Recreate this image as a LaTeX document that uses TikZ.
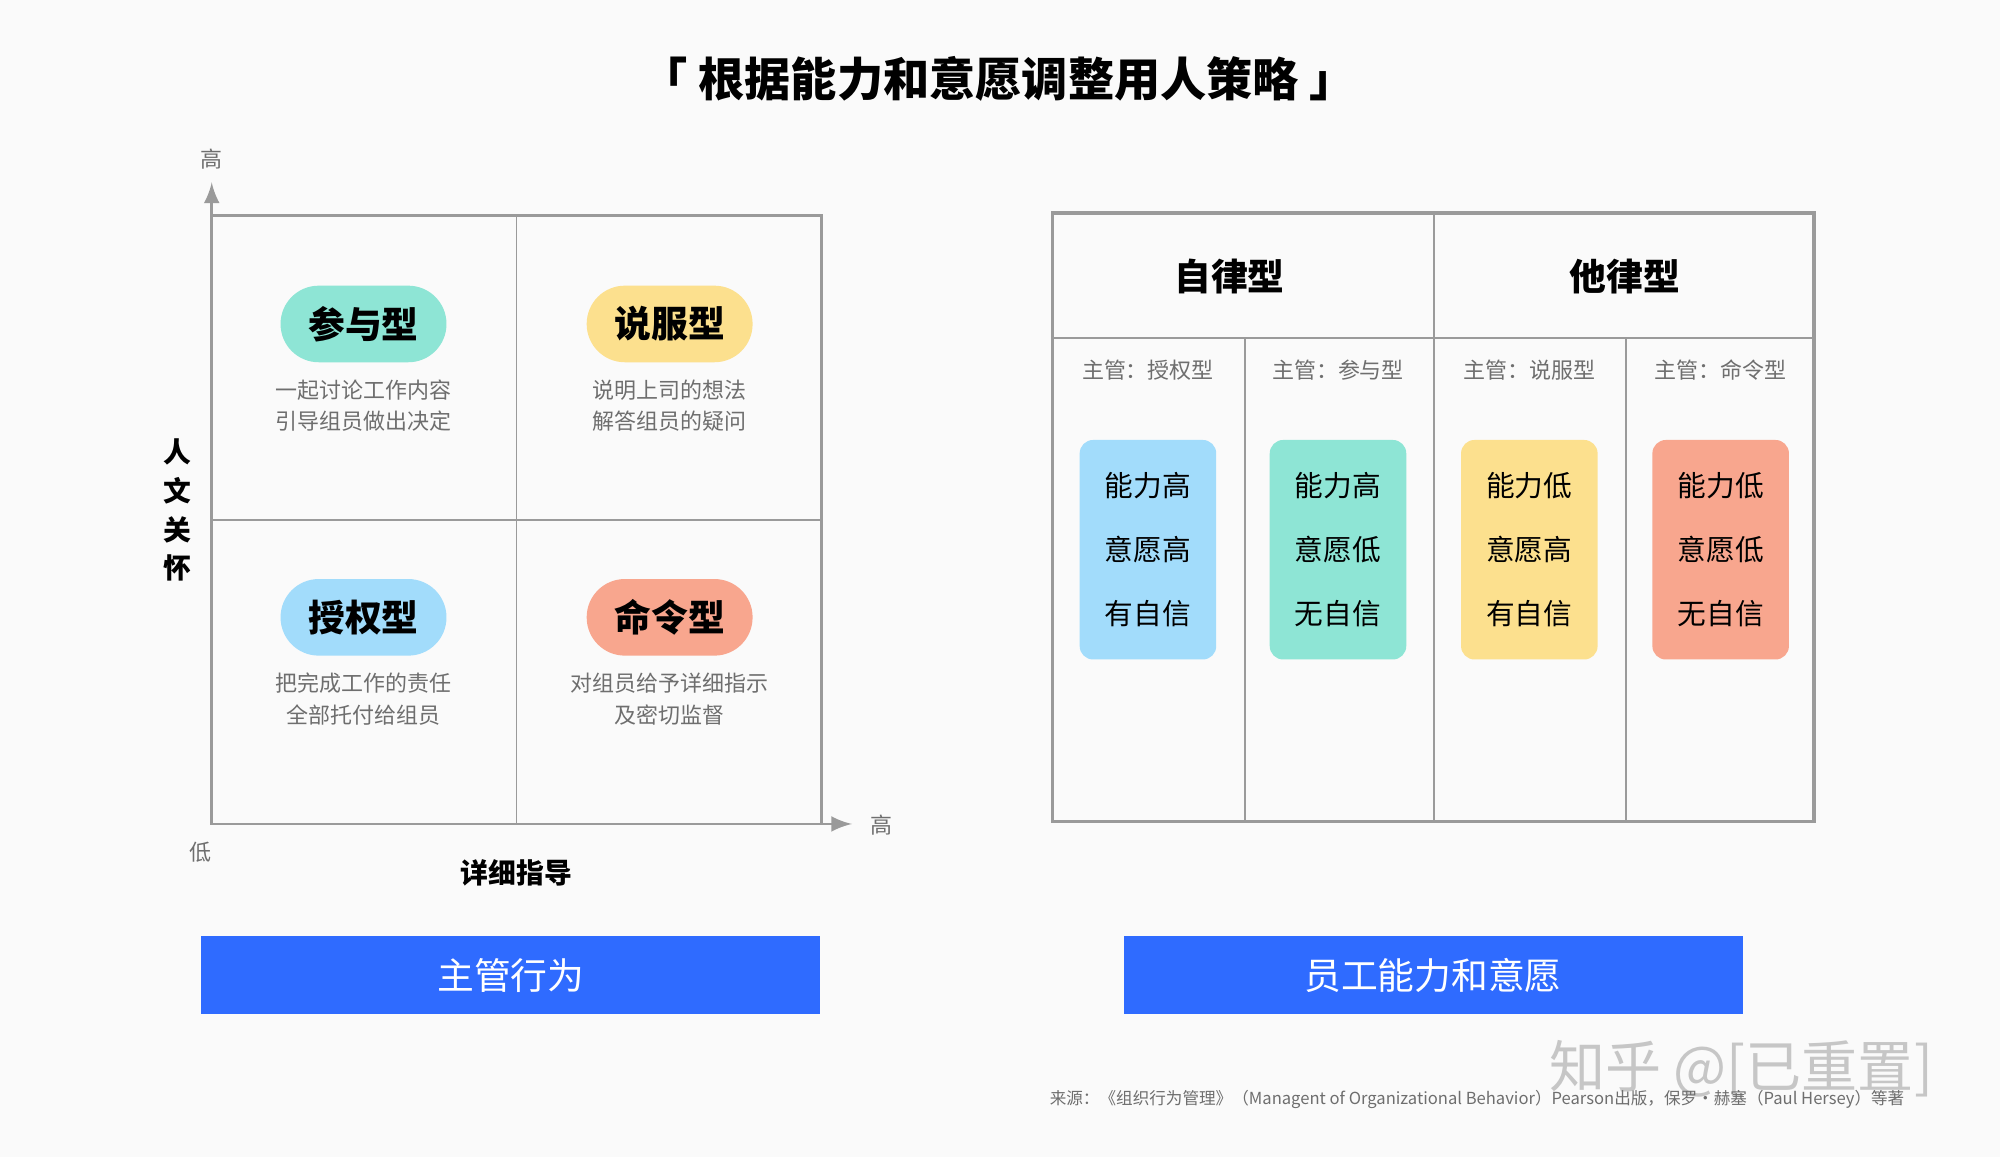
\documentclass[tikz,border=0pt]{standalone}
\usepackage{fontspec}
\setmainfont{Noto Sans CJK SC}
\usetikzlibrary{positioning}
\definecolor{bg}{HTML}{FAFAFA}
\definecolor{gridgray}{HTML}{9A9A9A}
\definecolor{txtgray}{HTML}{6E6E6E}
\definecolor{pteal}{HTML}{8EE5D5}
\definecolor{pyellow}{HTML}{FCE08E}
\definecolor{pblue}{HTML}{A2DCFB}
\definecolor{psalmon}{HTML}{F8A68E}
\definecolor{btnblue}{HTML}{2F6BFF}
\begin{document}
\begin{tikzpicture}[x=0.01cm,y=-0.01cm]
	\tikzstyle{Pill}	= [rounded corners=8.5pt, minimum width=1.3cm, minimum height=0.6cm, inner sep=0pt, font=\fontsize{8.2}{9}\selectfont\bfseries]
	\tikzstyle{Desc}	= [text=txtgray, align=center, font=\fontsize{4.9}{7.1}\selectfont]
	\tikzstyle{Card}	= [rounded corners=3pt, minimum width=1.07cm, minimum height=1.72cm, inner sep=0pt, align=center, font=\fontsize{6.4}{14.2}\selectfont]
	\tikzstyle{Sub}		= [text=txtgray, font=\fontsize{4.9}{6}\selectfont]
	\tikzstyle{Head}	= [font=\fontsize{8.2}{9}\selectfont\bfseries]
	\tikzstyle{Btn}		= [fill=btnblue, text=white, minimum width=4.85cm, minimum height=0.61cm, inner sep=0pt, font=\fontsize{8.2}{9}\selectfont]
	\tikzstyle{Axis}	= [gridgray, line width=0.6pt, -latex]
	\tikzstyle{Small}	= [text=txtgray, font=\fontsize{4.9}{6}\selectfont]

	\fill[bg] (0,0) rectangle (1568,907);
	\node (title) at (783,62) [font=\fontsize{10.3}{12}\selectfont\bfseries] {「\ 根据能力和意愿调整用人策略 」};

	% left matrix
	\draw[gridgray, line width=0.6pt] (166,169) rectangle (644,646);
	\draw[gridgray, line width=0.4pt] (405,169) -- (405,646) (166,408) -- (644,408);
	\coordinate (o) at (166,646);
	\coordinate (ytop) at (166,143);
	\coordinate (xend) at (668,646);
	\draw[Axis] (o) -- (ytop);
	\draw[Axis] (o) -- (xend);
	\node (yhi) at (166,125) [Small] {高};
	\node (lo) at (157,668) [Small] {低};
	\node (xhi) at (691,647) [Small] {高};
	\node (ylab) at (139,400) [align=center, font=\fontsize{6.2}{8.6}\selectfont\bfseries] {人\\文\\关\\怀};
	\node (xlab) at (405,684) [font=\fontsize{6.2}{7}\selectfont\bfseries] {详细指导};

	\foreach \n/\x/\y/\c/\t/\d in {
		pa/285/254/pteal/参与型/{一起讨论工作内容\\引导组员做出决定},
		pb/525/254/pyellow/说服型/{说明上司的想法\\解答组员的疑问},
		pc/285/484/pblue/授权型/{把完成工作的责任\\全部托付给组员},
		pd/525/484/psalmon/命令型/{对组员给予详细指示\\及密切监督}}
	{
		\node (\n) at (\x,\y) [Pill, fill=\c] {\t};
		\node (\n d) at (\x,\y+64) [Desc] {\d};
	}

	% right table
	\draw[gridgray, line width=0.8pt] (825,167) rectangle (1422,644);
	\draw[gridgray, line width=0.5pt] (825,265) -- (1422,265) (1124,167) -- (1124,644)
		(976,265) -- (976,644) (1275,265) -- (1275,644);
	\node (self) at (964,217) [Head] {自律型};
	\node (other) at (1274,217) [Head] {他律型};
	\foreach \n/\x/\s/\c/\a/\b/\e in {
		ca/900/授权型/pblue/能力高/意愿高/有自信,
		cb/1049/参与型/pteal/能力高/意愿低/无自信,
		cc/1199/说服型/pyellow/能力低/意愿高/有自信,
		cd/1349/命令型/psalmon/能力低/意愿低/无自信}
	{
		\node (\n s) at (\x,290) [Sub] {主管：\s};
		\node (\n) at (\x,431) [Card, fill=\c] {\a\\\b\\\e};
	}

	% buttons
	\node (btnl) at (400.5,764.5) [Btn] {主管行为};
	\node (btnr) at (1123.5,764.5) [Btn] {员工能力和意愿};

	% footer
	\node (wm) at (1365,838) [text=gray!45, font=\fontsize{12.5}{14}\selectfont] {知乎 @[已重置]};
	\node (src) at (1158,862) [text=txtgray, font=\fontsize{3.7}{4}\selectfont] {来源：《组织行为管理》（Managent of Organizational Behavior）Pearson出版，保罗·赫塞（Paul Hersey）等著};
\end{tikzpicture}
\end{document}
